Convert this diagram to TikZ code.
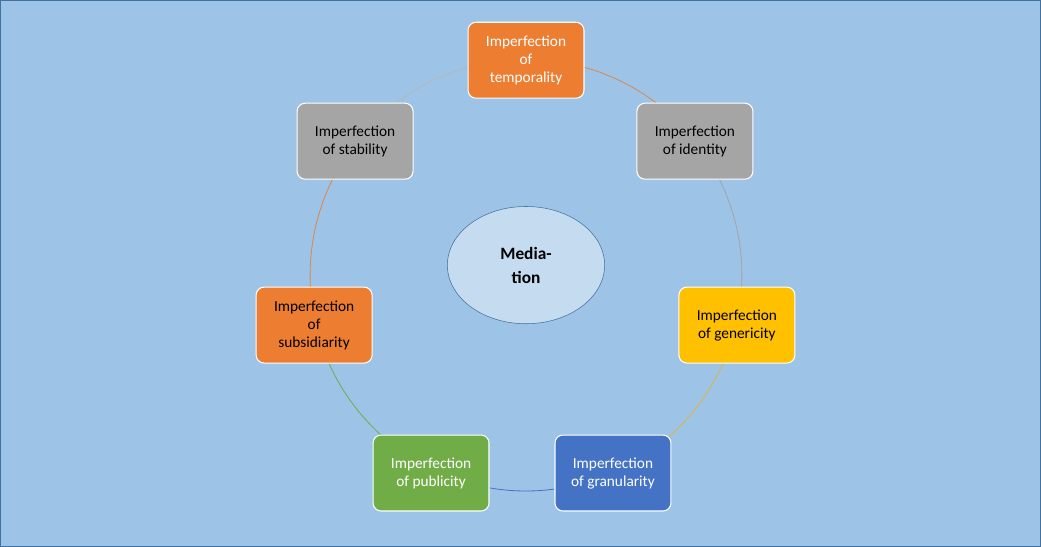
\documentclass[tikz,border=0pt]{standalone}
\usepackage{fontspec}
\setmainfont{Carlito}
\usetikzlibrary{shapes.geometric}
\begin{document}
\begin{tikzpicture}[x=0.75pt,y=0.75pt,
 box/.style={draw=white,line width=0.8pt,rounded corners=6pt,minimum width=87pt,minimum height=57pt,align=center,font=\fontsize{11.5}{13.5}\selectfont,inner sep=2pt},
 arcl/.style={line width=0.6pt}]
\definecolor{bg}{HTML}{9DC3E6}
\definecolor{bor}{HTML}{41719C}
\definecolor{or}{HTML}{ED7D31}
\definecolor{gr}{HTML}{A5A5A5}
\definecolor{go}{HTML}{FFC000}
\definecolor{bl}{HTML}{4472C4}
\definecolor{gn}{HTML}{70AD47}
\fill[bg,draw=bor] (0,0) rectangle (1041,546);
\useasboundingbox (0,0) rectangle (1041,546);
\coordinate (C) at (526,271);
\draw[arcl,or!70!gr] (C) ++(90:162pt) arc[start angle=90,end angle=38.4,radius=162pt];
\draw[arcl,gr] (C) ++(38.4:162pt) arc[start angle=38.4,end angle=-13.3,radius=162pt];
\draw[arcl,go!60!gr] (C) ++(-13.3:162pt) arc[start angle=-13.3,end angle=-66.3,radius=162pt];
\draw[arcl,bl] (C) ++(-66.3:162pt) arc[start angle=-66.3,end angle=-115.6,radius=162pt];
\draw[arcl,gn] (C) ++(-115.6:162pt) arc[start angle=-115.6,end angle=-166.7,radius=162pt];
\draw[arcl,or!80!gr] (C) ++(193.3:162pt) arc[start angle=193.3,end angle=141.9,radius=162pt];
\draw[arcl,gr!80!white] (C) ++(141.9:162pt) arc[start angle=141.9,end angle=90,radius=162pt];
\node[draw=bor,fill=bg!60!white,ellipse,minimum width=118pt,minimum height=88pt,align=center,font=\fontsize{13}{18}\selectfont\bfseries] (m) at (526,281) {Media-\\tion};
\node[box,fill=or,text=white] (t) at (526,486) {Imperfection\\of\\temporality};
\node[box,fill=gr] (i) at (695,405) {Imperfection\\of identity};
\node[box,fill=go] (g) at (737,221) {Imperfection\\of genericity};
\node[box,fill=bl,text=white] (gr) at (613,73) {Imperfection\\of granularity};
\node[box,fill=gn,text=white] (p) at (431,73) {Imperfection\\of publicity};
\node[box,fill=or] (s) at (314,221) {Imperfection\\of\\subsidiarity};
\node[box,fill=gr] (st) at (355,405) {Imperfection\\of stability};
\end{tikzpicture}
\end{document}
